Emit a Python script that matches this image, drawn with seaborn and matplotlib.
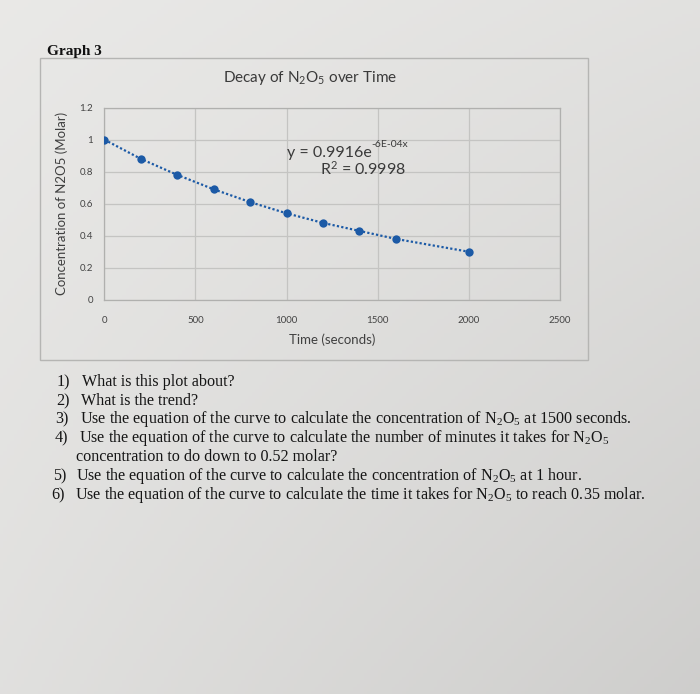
import matplotlib.pyplot as plt
import matplotlib.patches as mpatches
import numpy as np
import pandas as pd
import seaborn as sns

# data
time_s = [0, 200, 400, 600, 800, 1000, 1200, 1400, 1600, 2000]
conc_molar = [1.00, 0.88, 0.78, 0.69, 0.61, 0.54, 0.48, 0.43, 0.38, 0.30]
x_ticks = [0, 500, 1000, 1500, 2000, 2500]
y_ticks = [0, 0.2, 0.4, 0.6, 0.8, 1.0, 1.2]
y_tick_labels = ['0', '0.2', '0.4', '0.6', '0.8', '1', '1.2']

questions = [
    ('1)', 'What is this plot about?'),
    ('2)', 'What is the trend?'),
    ('3)', r'Use the equation of the curve to calculate the concentration of N$\mathregular{_2}$O$\mathregular{_5}$ at 1500 seconds.'),
    ('4)', r'Use the equation of the curve to calculate the number of minutes it takes for N$\mathregular{_2}$O$\mathregular{_5}$'),
    ('', 'concentration to do down to 0.52 molar?'),
    ('5)', r'Use the equation of the curve to calculate the concentration of N$\mathregular{_2}$O$\mathregular{_5}$ at 1 hour.'),
    ('6)', r'Use the equation of the curve to calculate the time it takes for N$\mathregular{_2}$O$\mathregular{_5}$ to reach 0.35 molar.'),
]

sns.set_theme(style='white')
plt.rcParams['font.family'] = ['Lato', 'DejaVu Sans']

df = pd.DataFrame({'t': time_s, 'c': conc_molar})

fig = plt.figure(figsize=(7, 6.94), dpi=100)

# paper background (photo look)
bg = fig.add_axes([0, 0, 1, 1], zorder=-10)
gx, gy = np.meshgrid(np.linspace(0, 1, 200), np.linspace(0, 1, 200))
shade = 0.915 - 0.03 * gx - 0.035 * gy - 0.04 * gx * gy
bg.imshow(np.dstack([shade, shade * 0.998, shade * 0.99]), extent=[0, 1, 0, 1],
          aspect='auto', origin='upper')
bg.set_axis_off()

# chart border box
fig.patches.append(mpatches.Rectangle((0.057, 0.481), 0.783, 0.435, transform=fig.transFigure,
                                      fill=False, edgecolor='#b5b5b3', linewidth=1.0))

fig.text(0.067, 0.921, 'Graph 3', family='Liberation Serif', fontweight='bold',
         fontsize=11, color='#111111')

ax = fig.add_axes([0.149, 0.568, 0.651, 0.277])
ax.set_facecolor('none')
sns.lineplot(data=df, x='t', y='c', ax=ax, color='#1c5aa6', linestyle=(0, (1, 1)), linewidth=1.6,
             marker='o', markersize=6, markeredgewidth=0, zorder=3)

ax.set_xlim(0, 2500)
ax.set_ylim(0, 1.2)
ax.set_xticks(x_ticks)
ax.set_yticks(y_ticks)
ax.set_yticklabels(y_tick_labels)
ax.grid(True, color='#c4c4c2', linewidth=0.9)
for s in ax.spines.values():
    s.set_color('#b0b0ae')
    s.set_linewidth(0.9)
ax.tick_params(axis='x', labelsize=7, colors='#444444', pad=12, length=0)
ax.tick_params(axis='y', labelsize=7, colors='#444444', pad=8, length=0)
ax.set_xlabel('Time (seconds)', fontsize=9.5, color='#404040', labelpad=6)
ax.set_ylabel('Concentration of N2O5 (Molar)', fontsize=9.5, color='#404040', labelpad=8)

fig.text(0.443, 0.888, r'Decay of N$\mathregular{_2}$O$\mathregular{_5}$ over Time',
         ha='center', va='center', fontsize=11, color='#3a3a3a')
fig.text(0.410, 0.780, 'y = 0.9916e', ha='left', va='center', fontsize=11.5, color='#3a3a3a')
fig.text(0.531, 0.792, '-6E-04x', ha='left', va='center', fontsize=7.5, color='#3a3a3a')
fig.text(0.518, 0.757, r'R$\mathregular{^2}$ = 0.9998', ha='center', va='center',
         fontsize=11.5, color='#3a3a3a')

y0 = 382
steps = [0, 19, 37, 56, 75, 94, 113]
num_x = [0.081, 0.080, 0.079, 0.078, None, 0.076, 0.073]
txt_x = [0.117, 0.116, 0.114, 0.113, 0.109, 0.109, 0.107]
for (num, txt), dy, nx, tx in zip(questions, steps, num_x, txt_x):
    yy = 1 - (y0 + dy) / 694
    if num:
        fig.text(nx, yy, num, family='Liberation Serif', fontsize=11.6, color='#151515', va='center')
    fig.text(tx, yy, txt, family='Liberation Serif', fontsize=11.6, color='#151515', va='center')

fig.savefig('out.png', dpi=100)
